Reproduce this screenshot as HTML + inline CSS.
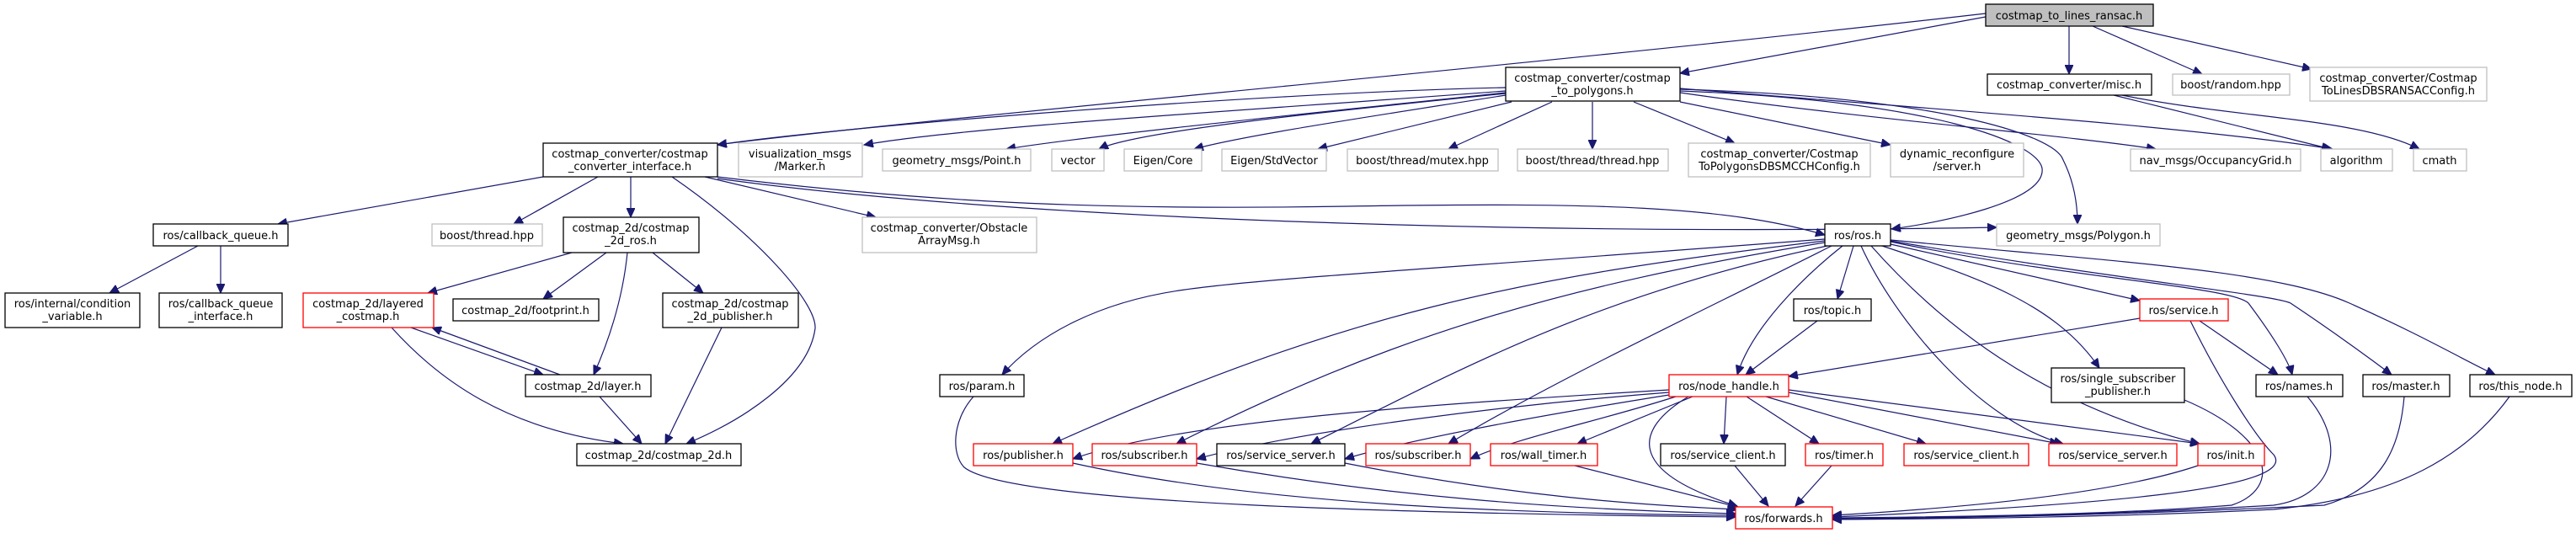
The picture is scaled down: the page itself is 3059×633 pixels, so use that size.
<!DOCTYPE html>
<html><head><meta charset="utf-8"><style>
html,body{margin:0;padding:0;background:#fff;}
svg{display:block;}
text{font-family:"DejaVu Sans","Liberation Sans",sans-serif;font-size:13px;fill:#000;text-anchor:middle;}
.e{fill:none;stroke:#191970;stroke-width:1.2;}
.b{fill:#fff;stroke:#000;stroke-width:1.3;}
.g{fill:#fff;stroke:#bfbfbf;stroke-width:1.3;}
.r{fill:#fff;stroke:#ff0000;stroke-width:1.3;}
.t{fill:#bfbfbf;stroke:#000;stroke-width:1.3;}
</style></head><body>
<svg width="3059" height="633" viewBox="0 0 3059 633" xmlns="http://www.w3.org/2000/svg">
<defs>
<marker id="a" markerUnits="userSpaceOnUse" markerWidth="12" markerHeight="10" refX="11" refY="5" orient="auto">
<path d="M0,0 L11,5 L0,10 Z" fill="#191970" stroke="#191970"/>
</marker>
</defs>
<g class="e" marker-end="url(#a)">
<!-- top -->
<path d="M2358,20 L1995,87" marker-end="url(#a)"/>
<path d="M2358,16 C1800,80 1100,140 852,172"/>
<path d="M2457,31 L2457,88"/>
<path d="M2485,31 L2615,88"/>
<path d="M2520,31 L2745,82"/>
<!-- polygons -->
<path d="M1788,104 C1500,110 1000,150 852,172"/>
<path d="M1788,108 C1500,130 1150,150 1026,172"/>
<path d="M1788,110 C1600,130 1300,160 1195,177"/>
<path d="M1788,111 C1600,130 1350,155 1305,177"/>
<path d="M1788,113 C1650,135 1480,160 1418,177"/>
<path d="M1795,121 L1565,177"/>
<path d="M1843,121 L1720,177"/>
<path d="M1891,121 L1891,177"/>
<path d="M1940,121 L2060,170"/>
<path d="M1995,121 L2245,172"/>
<path d="M1995,110 C2200,140 2450,160 2560,177"/>
<path d="M1995,105 C2300,130 2600,150 2770,177"/>
<path d="M1995,108 C2300,120 2420,170 2425,200 C2430,240 2300,265 2246,272"/>
<path d="M1995,106 C2300,115 2440,160 2450,190 C2465,220 2467,250 2467,266"/>
<!-- misc -->
<path d="M2510,113 L2768,177"/>
<path d="M2520,113 C2650,140 2800,140 2873,177"/>
<!-- interface -->
<path d="M645,210 L330,266"/>
<path d="M710,210 L610,266"/>
<path d="M749,210 L749,258"/>
<path d="M798,210 C900,280 970,360 968,390 C960,450 880,500 815,527"/>
<path d="M837,210 L1040,258"/>
<path d="M852,210 C1100,240 1300,250 1600,245 C1900,240 2050,245 2167,279"/>
<path d="M852,212 C1200,260 1800,280 2371,270"/>
<!-- callback queue -->
<path d="M235,292 L130,348"/>
<path d="M262,292 L262,348"/>
<!-- costmap_2d_ros -->
<path d="M679,300 L508,348"/>
<path d="M720,300 L645,355"/>
<path d="M745,300 C740,350 725,400 705,445"/>
<path d="M775,300 L835,348"/>
<path d="M465,389 C520,450 600,510 740,527"/>
<path d="M488,389 L645,445"/>
<path d="M665,445 L513,389"/>
<path d="M712,471 L762,527"/>
<path d="M857,389 L790,527"/>
<!-- ros.h -->
<path d="M2167,284 C1700,320 1500,330 1400,345 C1300,360 1230,400 1190,445"/>
<path d="M2167,286 C1800,330 1600,370 1250,527"/>
<path d="M2167,288 C1850,340 1650,400 1397,527"/>
<path d="M2170,292 C1900,350 1750,430 1557,527"/>
<path d="M2175,292 C2000,380 1850,450 1720,527"/>
<path d="M2188,292 C2140,330 2080,390 2063,445"/>
<path d="M2201,292 L2182,355"/>
<path d="M2210,292 C2250,380 2350,500 2450,527"/>
<path d="M2222,292 C2300,380 2420,480 2612,527"/>
<path d="M2235,292 C2350,330 2440,360 2493,437"/>
<path d="M2245,290 L2541,357"/>
<path d="M2245,287 C2450,330 2650,340 2670,360 C2700,400 2718,430 2722,445"/>
<path d="M2245,286 C2500,330 2700,350 2720,360 C2780,400 2820,430 2840,445"/>
<path d="M2245,285 C2500,310 2700,320 2790,360 C2880,400 2930,430 2963,445"/>
<!-- topic, service -->
<path d="M2158,381 L2073,445"/>
<path d="M2541,378 L2124,447"/>
<path d="M2612,381 L2705,445"/>
<path d="M2601,381 C2640,460 2680,520 2700,540 C2730,580 2500,600 2176,614"/>
<!-- node_handle -->
<path d="M1982,463 C1700,480 1400,500 1274,545"/>
<path d="M1982,466 C1800,480 1550,510 1421,545"/>
<path d="M1982,469 C1850,490 1680,520 1597,545"/>
<path d="M1990,471 C1900,500 1800,520 1746,545"/>
<path d="M2010,471 L1873,527"/>
<path d="M2050,471 L2047,527"/>
<path d="M2005,471 C1940,510 1930,560 2063,601"/>
<path d="M2074,471 L2160,527"/>
<path d="M2097,471 L2287,527"/>
<path d="M2124,466 L2445,527"/>
<path d="M2124,463 L2612,527"/>
<!-- to forwards -->
<path d="M1156,471 C1130,500 1130,540 1145,555 C1200,600 1700,610 2061,614"/>
<path d="M1274,550 C1500,600 1800,610 2061,612"/>
<path d="M1421,550 C1650,590 1850,605 2061,610"/>
<path d="M1597,550 C1800,590 1950,600 2063,605"/>
<path d="M1870,553 L2063,602"/>
<path d="M2060,553 L2100,601"/>
<path d="M2175,553 L2132,601"/>
<path d="M2610,553 C2500,590 2300,605 2176,612"/>
<path d="M2594,475 C2700,520 2710,580 2650,600 C2500,612 2300,614 2176,615"/>
<path d="M2740,471 C2790,530 2770,590 2700,600 C2500,612 2300,615 2176,616"/>
<path d="M2855,471 C2850,530 2830,580 2760,600 C2500,613 2300,615 2176,617"/>
<path d="M2980,471 C2930,540 2850,590 2700,605 C2500,615 2300,616 2176,617"/>
</g>
<!-- nodes -->
<g>
<rect class="t" x="2358" y="5" width="199" height="26"/><text x="2457" y="23">costmap_to_lines_ransac.h</text>
<rect class="b" x="1788" y="80" width="207" height="40"/><text x="1891" y="97">costmap_converter/costmap</text><text x="1891" y="112">_to_polygons.h</text>
<rect class="b" x="2360" y="88" width="195" height="25"/><text x="2457" y="105">costmap_converter/misc.h</text>
<rect class="g" x="2580" y="88" width="139" height="25"/><text x="2649" y="105">boost/random.hpp</text>
<rect class="g" x="2743" y="80" width="210" height="40"/><text x="2848" y="97">costmap_converter/Costmap</text><text x="2848" y="112">ToLinesDBSRANSACConfig.h</text>
<rect class="b" x="645" y="170" width="207" height="40"/><text x="748" y="187">costmap_converter/costmap</text><text x="748" y="202">_converter_interface.h</text>
<rect class="g" x="877" y="170" width="147" height="40"/><text x="950" y="187">visualization_msgs</text><text x="950" y="202">/Marker.h</text>
<rect class="g" x="1048" y="177" width="176" height="26"/><text x="1136" y="195">geometry_msgs/Point.h</text>
<rect class="g" x="1249" y="177" width="62" height="26"/><text x="1280" y="195">vector</text>
<rect class="g" x="1335" y="177" width="92" height="26"/><text x="1381" y="195">Eigen/Core</text>
<rect class="g" x="1451" y="177" width="124" height="26"/><text x="1513" y="195">Eigen/StdVector</text>
<rect class="g" x="1600" y="177" width="179" height="26"/><text x="1689" y="195">boost/thread/mutex.hpp</text>
<rect class="g" x="1802" y="177" width="179" height="26"/><text x="1891" y="195">boost/thread/thread.hpp</text>
<rect class="g" x="2005" y="170" width="216" height="40"/><text x="2113" y="187">costmap_converter/Costmap</text><text x="2113" y="202">ToPolygonsDBSMCCHConfig.h</text>
<rect class="g" x="2245" y="170" width="158" height="40"/><text x="2324" y="187">dynamic_reconfigure</text><text x="2324" y="202">/server.h</text>
<rect class="g" x="2530" y="177" width="202" height="26"/><text x="2631" y="195">nav_msgs/OccupancyGrid.h</text>
<rect class="g" x="2756" y="177" width="85" height="26"/><text x="2798" y="195">algorithm</text>
<rect class="g" x="2866" y="177" width="63" height="26"/><text x="2897" y="195">cmath</text>
<rect class="b" x="182" y="266" width="160" height="26"/><text x="262" y="284">ros/callback_queue.h</text>
<rect class="g" x="513" y="266" width="131" height="26"/><text x="578" y="284">boost/thread.hpp</text>
<rect class="b" x="669" y="258" width="161" height="42"/><text x="749" y="275">costmap_2d/costmap</text><text x="749" y="290">_2d_ros.h</text>
<rect class="g" x="1024" y="258" width="207" height="42"/><text x="1127" y="275">costmap_converter/Obstacle</text><text x="1127" y="290">ArrayMsg.h</text>
<rect class="b" x="2167" y="266" width="78" height="26"/><text x="2206" y="284">ros/ros.h</text>
<rect class="g" x="2371" y="266" width="194" height="26"/><text x="2468" y="284">geometry_msgs/Polygon.h</text>
<rect class="b" x="6" y="348" width="160" height="41"/><text x="86" y="365">ros/internal/condition</text><text x="86" y="380">_variable.h</text>
<rect class="b" x="189" y="348" width="146" height="41"/><text x="262" y="365">ros/callback_queue</text><text x="262" y="380">_interface.h</text>
<rect class="r" x="360" y="348" width="155" height="41"/><text x="437" y="365">costmap_2d/layered</text><text x="437" y="380">_costmap.h</text>
<rect class="b" x="538" y="355" width="173" height="26"/><text x="624" y="373">costmap_2d/footprint.h</text>
<rect class="b" x="787" y="348" width="161" height="41"/><text x="867" y="365">costmap_2d/costmap</text><text x="867" y="380">_2d_publisher.h</text>
<rect class="b" x="2130" y="355" width="92" height="26"/><text x="2176" y="373">ros/topic.h</text>
<rect class="r" x="2541" y="355" width="105" height="26"/><text x="2593" y="373">ros/service.h</text>
<rect class="b" x="624" y="445" width="149" height="26"/><text x="698" y="463">costmap_2d/layer.h</text>
<rect class="b" x="1116" y="445" width="100" height="26"/><text x="1166" y="463">ros/param.h</text>
<rect class="r" x="1982" y="445" width="142" height="26"/><text x="2053" y="463">ros/node_handle.h</text>
<rect class="b" x="2436" y="437" width="158" height="41"/><text x="2515" y="454">ros/single_subscriber</text><text x="2515" y="469">_publisher.h</text>
<rect class="b" x="2679" y="445" width="103" height="26"/><text x="2730" y="463">ros/names.h</text>
<rect class="b" x="2806" y="445" width="103" height="26"/><text x="2857" y="463">ros/master.h</text>
<rect class="b" x="2933" y="445" width="121" height="26"/><text x="2993" y="463">ros/this_node.h</text>
<rect class="b" x="685" y="527" width="195" height="26"/><text x="782" y="545">costmap_2d/costmap_2d.h</text>
<rect class="r" x="1156" y="527" width="118" height="26"/><text x="1215" y="545">ros/publisher.h</text>
<rect class="r" x="1297" y="527" width="124" height="26"/><text x="1359" y="545">ros/subscriber.h</text>
<rect class="b" x="1445" y="527" width="152" height="26"/><text x="1521" y="545">ros/service_server.h</text>
<rect class="r" x="1622" y="527" width="124" height="26"/><text x="1684" y="545">ros/subscriber.h</text>
<rect class="r" x="1770" y="527" width="127" height="26"/><text x="1833" y="545">ros/wall_timer.h</text>
<rect class="b" x="1972" y="527" width="148" height="26"/><text x="2046" y="545">ros/service_client.h</text>
<rect class="r" x="2144" y="527" width="92" height="26"/><text x="2190" y="545">ros/timer.h</text>
<rect class="r" x="2261" y="527" width="148" height="26"/><text x="2335" y="545">ros/service_client.h</text>
<rect class="r" x="2433" y="527" width="152" height="26"/><text x="2509" y="545">ros/service_server.h</text>
<rect class="r" x="2610" y="527" width="79" height="26"/><text x="2649" y="545">ros/init.h</text>
<rect class="r" x="2061" y="602" width="115" height="26"/><text x="2118" y="620">ros/forwards.h</text>
</g>
</svg>
</body></html>
